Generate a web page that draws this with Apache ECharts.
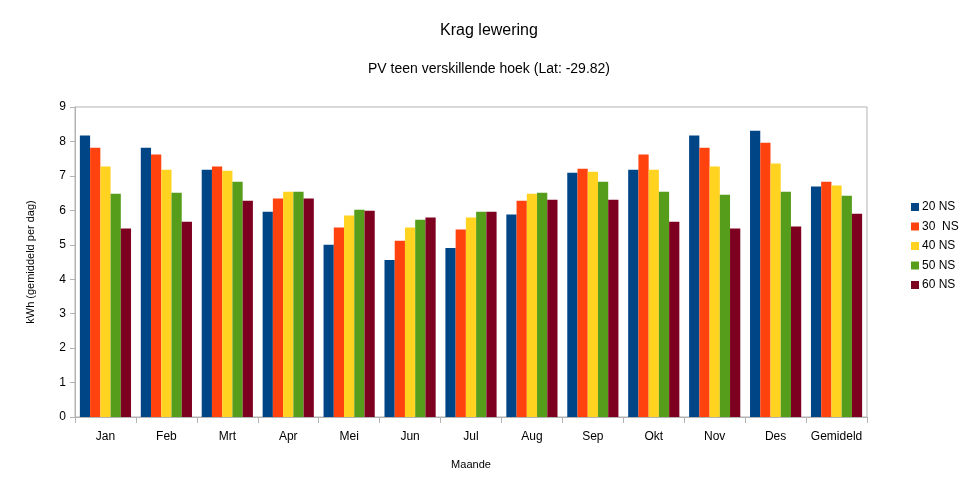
<!DOCTYPE html>
<html><head><meta charset="utf-8">
<script src="https://cdn.jsdelivr.net/npm/echarts@6/dist/echarts.min.js"></script>
<style>html,body{margin:0;padding:0;background:#fff}#c{width:978px;height:494px}</style>
</head><body><div id="c"></div>
<script>
const categories = ['Jan','Feb','Mrt','Apr','Mei','Jun','Jul','Aug','Sep','Okt','Nov','Des','Gemideld'];
const seriesNames = ['20 NS','30  NS','40 NS','50 NS','60 NS'];
const ns20 = [8.17,7.82,7.18,5.96,5.00,4.56,4.91,5.88,7.09,7.18,8.17,8.31,6.69];
const ns30 = [7.82,7.62,7.27,6.34,5.50,5.12,5.44,6.28,7.21,7.62,7.82,7.96,6.83];
const ns40 = [7.27,7.18,7.15,6.54,5.85,5.50,5.79,6.48,7.12,7.18,7.27,7.36,6.72];
const ns50 = [6.48,6.51,6.83,6.54,6.02,5.73,5.96,6.51,6.83,6.54,6.45,6.54,6.42];
const ns60 = [5.47,5.67,6.28,6.34,5.99,5.79,5.96,6.31,6.31,5.67,5.47,5.53,5.90];
const colors = ['#004586','#ff420e','#ffd320','#579d1c','#7e0021'];
const values = [ns20, ns30, ns40, ns50, ns60];

const chart = echarts.init(document.getElementById('c'), null, {renderer:'canvas'});
const ff = '"Liberation Sans", Arial, sans-serif';
chart.setOption({
  animation:false,
  backgroundColor:'#fff',
  textStyle:{fontFamily:ff},
  title:[
    {text:'Krag lewering', left:'center', top:18, textStyle:{fontFamily:ff,fontSize:16,fontWeight:'normal',color:'#000'}},
    {text:'PV teen verskillende hoek (Lat: -29.82)', left:'center', top:57, textStyle:{fontFamily:ff,fontSize:14,fontWeight:'normal',color:'#000'}}
  ],
  legend:{
    orient:'vertical', left:906, top:196, itemWidth:8, itemHeight:8, itemGap:7.5,
    icon:'rect', textStyle:{fontFamily:ff,fontSize:12,color:'#000',padding:[0,0,0,-2]},
    data:seriesNames
  },
  grid:{left:75, top:107, width:792, height:310, show:true, borderColor:'#b3b3b3', borderWidth:1, containLabel:false},
  xAxis:{
    type:'category', data:categories,
    name:'Maande', nameLocation:'middle', nameGap:42,
    nameTextStyle:{fontFamily:ff,fontSize:11,color:'#000'},
    axisLine:{lineStyle:{color:'#b3b3b3'}},
    axisTick:{show:true, length:6, lineStyle:{color:'#b3b3b3'}, alignWithLabel:false},
    axisLabel:{interval:0, fontFamily:ff,fontSize:12,color:'#000',margin:14}
  },
  yAxis:{
    type:'value', min:0, max:9, interval:1,
    name:'kWh (gemiddeld per dag)', nameLocation:'middle', nameGap:39, nameRotate:90,
    nameTextStyle:{fontFamily:ff,fontSize:11,color:'#000'},
    axisLine:{show:true, lineStyle:{color:'#b3b3b3'}},
    axisTick:{show:true, length:5, lineStyle:{color:'#b3b3b3'}},
    splitLine:{show:false},
    axisLabel:{fontFamily:ff,fontSize:12,color:'#000',margin:9}
  },
  series: seriesNames.map((n,i)=>({
    name:n, type:'bar', data:values[i], barGap:'0%', barCategoryGap:'16%',
    itemStyle:{color:colors[i]}
  }))
});
</script></body></html>
